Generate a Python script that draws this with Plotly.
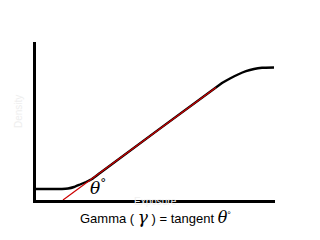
import plotly.graph_objects as go

# Characteristic (H&D) curve, arbitrary units: log exposure vs density
curve_x = [0, 14, 26, 32, 38, 44, 50, 56, 64, 186, 194, 202, 210, 218, 226, 238]
curve_y = [11, 11, 11, 11.5, 13, 15.5, 18, 21, 27, 117, 121.5, 125.5, 128.8, 131, 132.2, 132.5]

# Tangent line over the straight-line portion
tangent_x = [27, 180]
tangent_y = [0, 112.6]

x_range = [0, 239]
y_range = [0, 158]

fig = go.Figure()
fig.add_trace(go.Scatter(x=curve_x, y=curve_y, mode="lines",
                         line=dict(color="black", width=2.4, shape="spline", smoothing=0.3),
                         hoverinfo="skip"))
fig.add_trace(go.Scatter(x=tangent_x, y=tangent_y, mode="lines",
                         line=dict(color="#cc0000", width=1.2),
                         hoverinfo="skip"))

fig.add_annotation(x=62, y=13, xref="x", yref="y", showarrow=False,
                   xanchor="center", yanchor="middle",
                   text="<i>θ</i><sup>°</sup>",
                   font=dict(family="DejaVu Serif", size=17, color="black"))
fig.add_annotation(x=0.50, y=-0.108, xref="paper", yref="paper", showarrow=False,
                   xanchor="center", yanchor="middle",
                   text="Gamma ( <span style='font-family:DejaVu Serif;font-size:17px'><i>γ</i></span> ) = tangent "
                        "<span style='font-family:DejaVu Serif;font-size:16px'><i>θ</i></span><sup>°</sup>",
                   font=dict(family="Liberation Sans", size=13, color="black"))
fig.add_annotation(x=-0.071, y=0.557, xref="paper", yref="paper", showarrow=False,
                   xanchor="center", yanchor="middle",
                   text="Density", textangle=-90,
                   font=dict(family="Liberation Sans", size=10, color="#eeeeee"))
fig.add_annotation(x=0.50, y=-0.012, xref="paper", yref="paper", showarrow=False,
                   xanchor="center", yanchor="middle",
                   text="Exposure",
                   font=dict(family="Liberation Sans", size=10, color="#f0f0f0"))

fig.update_layout(
    width=320, height=240,
    margin=dict(l=36, r=45, t=42, b=40),
    paper_bgcolor="white", plot_bgcolor="white",
    showlegend=False,
    xaxis=dict(range=x_range, showgrid=False, zeroline=False, showticklabels=False,
               ticks="", showline=True, linecolor="black", linewidth=2.5),
    yaxis=dict(range=y_range, showgrid=False, zeroline=False, showticklabels=False,
               ticks="", showline=True, linecolor="black", linewidth=3),
)

fig.write_html("out.html", config={"displayModeBar": False})
